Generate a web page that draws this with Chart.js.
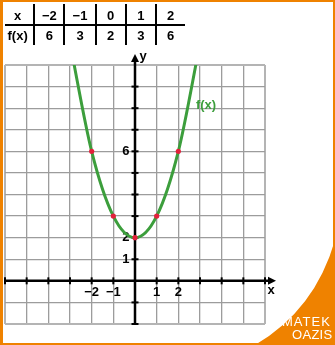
<!DOCTYPE html>
<html><head><meta charset="utf-8">
<script src="https://cdn.jsdelivr.net/npm/chart.js@4"></script>
<style>
html,body{margin:0;padding:0;background:#fff;}
#wrap{position:relative;width:335px;height:345px;overflow:hidden;font-family:'Liberation Sans',Arial,sans-serif;background:#fff;}
#chartBox{position:absolute;left:0;top:0;width:335px;height:345px;}
#frame{position:absolute;left:0;top:0;width:335px;height:345px;box-sizing:border-box;border-style:solid;border-color:#ef8200;border-width:2px 2px 2px 3px;pointer-events:none;}
.cell{position:absolute;font-weight:bold;font-size:13px;text-align:center;line-height:20px;height:20px;color:#000;white-space:nowrap;}
.vl{position:absolute;width:2px;background:#000;}
.hl{position:absolute;height:2px;background:#000;}
.logo{position:absolute;color:#fff;font-size:13px;line-height:13px;white-space:nowrap;}
#corner{position:absolute;left:0;top:0;}
</style></head>
<body>
<div id="wrap">
  <div id="chartBox"><canvas id="c"></canvas></div>
  <div id="table"></div>
  <svg id="corner" width="335" height="345"><path d="M335 240 Q315 310 255 345 L335 345 Z" fill="#ef8200"/></svg>
  <div class="logo" style="left:282px;top:315px;letter-spacing:1px;">MATEK</div>
  <div class="logo" style="left:292px;top:327.5px;letter-spacing:0.3px;">OAZIS</div>
  <div id="frame"></div>
</div>
<script>
// ---- data ----
const tableX = [-2, -1, 0, 1, 2];
const tableY = [6, 3, 2, 3, 6];
const curveEndsX = [-3, 3];      // curve continues past the top of the grid
const curveEndsY = [11, 11];
const xTickLabels = [-2, -1, 1, 2];
const yTickLabels = [1, 2, 6];
const xRange = [-6, 6];
const yRange = [-2, 10];
const rowNames = ['x', 'f(x)'];
const curveName = 'f(x)';

const fmt = v => (v < 0 ? '\u2212' + Math.abs(v) : String(v));

// ---- value table (HTML) ----
(function buildTable() {
  const t = document.getElementById('table');
  const edges = [1, 34.3, 64.3, 95.7, 125.7, 156, 185];
  const rows = [[rowNames[0], ...tableX.map(fmt)], [rowNames[1], ...tableY.map(fmt)]];
  const rowTops = [6.2, 26.2];
  rows.forEach((r, ri) => {
    r.forEach((txt, ci) => {
      const d = document.createElement('div');
      d.className = 'cell';
      d.style.left = edges[ci] + 'px';
      d.style.width = (edges[ci + 1] - edges[ci]) + 'px';
      d.style.top = rowTops[ri] + 'px';
      d.textContent = txt;
      t.appendChild(d);
    });
  });
  for (let i = 1; i < edges.length - 1; i++) {
    const v = document.createElement('div');
    v.className = 'vl';
    v.style.left = (edges[i] - 1) + 'px';
    v.style.top = '4px';
    v.style.height = '41px';
    t.appendChild(v);
  }
  const h = document.createElement('div');
  h.className = 'hl';
  h.style.left = '5px'; h.style.top = '24px'; h.style.width = '180px';
  t.appendChild(h);
})();

// ---- chart ----
const FONT = {family: "'Liberation Sans', Arial, sans-serif", size: 13, weight: 'bold'};

const axesPlugin = {
  id: 'axesPlugin',
  beforeDatasetsDraw(chart) {
    const {ctx, chartArea: a, scales: {x, y}} = chart;
    const x0 = x.getPixelForValue(0), y0 = y.getPixelForValue(0);
    ctx.save();
    ctx.strokeStyle = '#000'; ctx.fillStyle = '#000'; ctx.lineWidth = 2.5;
    ctx.beginPath(); ctx.moveTo(a.left, y0); ctx.lineTo(a.right + 5, y0); ctx.stroke();
    ctx.beginPath(); ctx.moveTo(a.right + 11, y0); ctx.lineTo(a.right + 3, y0 - 4); ctx.lineTo(a.right + 3, y0 + 4); ctx.closePath(); ctx.fill();
    ctx.beginPath(); ctx.moveTo(x0, a.bottom); ctx.lineTo(x0, a.top - 5); ctx.stroke();
    ctx.beginPath(); ctx.moveTo(x0, a.top - 11); ctx.lineTo(x0 - 4, a.top - 3); ctx.lineTo(x0 + 4, a.top - 3); ctx.closePath(); ctx.fill();
    ctx.lineWidth = 2;
    x.ticks.forEach(t => {
      if (t.value === 0) return;
      const px = x.getPixelForValue(t.value);
      ctx.beginPath(); ctx.moveTo(px, y0 - 3.5); ctx.lineTo(px, y0 + 3.5); ctx.stroke();
    });
    y.ticks.forEach(t => {
      if (t.value === 0 || t.value === y.max) return;
      const py = y.getPixelForValue(t.value);
      ctx.beginPath(); ctx.moveTo(x0 - 3.5, py); ctx.lineTo(x0 + 3.5, py); ctx.stroke();
    });
    ctx.restore();
  }
};

const labelPlugin = {
  id: 'labelPlugin',
  afterDatasetsDraw(chart) {
    const {ctx, chartArea: a, scales: {x, y}} = chart;
    const x0 = x.getPixelForValue(0), y0 = y.getPixelForValue(0);
    ctx.save();
    ctx.font = "bold 13px 'Liberation Sans', Arial, sans-serif";
    ctx.textAlign = 'center';
    ctx.textBaseline = 'alphabetic';
    ctx.fillStyle = '#000';
    ctx.fillText('x', a.right + 6, y0 + 13);
    ctx.fillText('y', x0 + 8, a.top - 5);
    ctx.fillStyle = '#3c9e3c';
    ctx.fillText(curveName, x.getPixelForValue(3.28), y.getPixelForValue(7.95));
    ctx.restore();
  }
};

const pointData = tableX.map((v, i) => ({x: v, y: tableY[i]}));
const curveData = [{x: curveEndsX[0], y: curveEndsY[0]}, ...pointData, {x: curveEndsX[1], y: curveEndsY[1]}];

const gridColor = ctx => {
  const v = ctx.tick ? ctx.tick.value : null;
  const s = ctx.scale;
  return (v === s.min || v === s.max) ? '#b4b4b4' : '#9c9c9c';
};
const gridWidth = ctx => {
  const v = ctx.tick ? ctx.tick.value : null;
  const s = ctx.scale;
  return (v === s.min || v === s.max) ? 2 : 1.3;
};

new Chart(document.getElementById('c'), {
  type: 'scatter',
  data: {
    datasets: [
      {label: 'points', data: pointData, pointRadius: 2.6, pointBackgroundColor: '#e3213b', pointBorderWidth: 0, showLine: false},
      {label: curveName, data: curveData, showLine: true, borderColor: '#3c9e3c', borderWidth: 3, pointRadius: 0,
       cubicInterpolationMode: 'monotone', capBezierPoints: false, clip: 0}
    ]
  },
  options: {
    responsive: true, maintainAspectRatio: false, animation: false, devicePixelRatio: 1,
    events: [],
    layout: {padding: {left: 5, top: 65, right: 70, bottom: 21}},
    plugins: {legend: {display: false}, tooltip: {enabled: false}},
    scales: {
      x: {
        type: 'linear', position: {y: 0}, min: xRange[0], max: xRange[1],
        ticks: {stepSize: 1, autoSkip: false, maxRotation: 0, padding: 4, color: '#000', font: FONT,
                callback: v => (xTickLabels.includes(v) ? fmt(v) : '')},
        grid: {drawTicks: false, color: gridColor, lineWidth: gridWidth},
        border: {display: false}
      },
      y: {
        // labels anchored just left of the y axis (Chart.js ignores padding for value-positioned y axes)
        type: 'linear', position: {x: -0.25}, min: yRange[0], max: yRange[1],
        ticks: {stepSize: 1, autoSkip: false, color: '#000', font: FONT,
                callback: v => (yTickLabels.includes(v) ? fmt(v) : '')},
        grid: {drawTicks: false, color: gridColor, lineWidth: gridWidth},
        border: {display: false}
      }
    }
  },
  plugins: [axesPlugin, labelPlugin]
});
</script>
</body></html>
